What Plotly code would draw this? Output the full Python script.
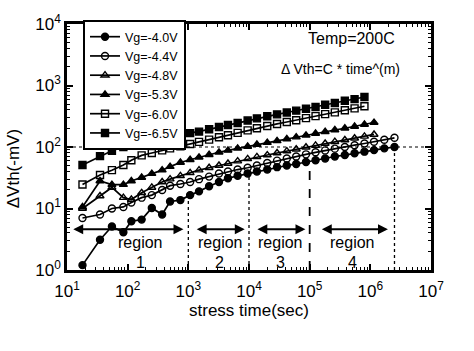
import math
import plotly.graph_objects as go

# ---- data ----
t = [18, 35, 55, 85, 115, 170, 250, 370, 500, 740, 1070, 1500, 2200, 3200, 4500,
     6500, 9500, 13500, 20000, 29000, 42000, 60000, 87000, 125000, 180000,
     260000, 380000, 550000, 800000, 1150000, 1700000, 2500000]

vg_40 = [1.2, 3.1, 5.1, 4.1, 6.2, 6.6, 10.2, 8.0, 13, 13.7, 16.5, 19, 23, 27, 31,
         34, 37, 40, 43, 47, 50, 53, 57, 61, 65, 70, 74, 79, 84, 89, 95, 100]
vg_44 = [7, 8, 10, 10.6, 12.5, 15, 16.5, 20, 23.5, 25, 27, 30, 33, 37, 40,
         43, 46, 50, 55, 60, 65, 70, 76, 82, 88, 94, 100, 107, 114, 122, 131, 141]
vg_48 = [10, 16, 22, 15, 14, 18, 22, 27, 30, 34, 38, 42, 46, 50, 54,
         59, 64, 69, 74, 80, 86, 92, 99, 106, 114, 122, 130, 139, 149, 160]
vg_53 = [10.6, 28, 24.5, 24.5, 28, 32, 37, 42, 48, 56, 62, 68, 75, 82, 88,
         95, 102, 110, 118, 126, 135, 145, 155, 166, 177, 189, 202, 216, 232, 250]
vg_60 = [24.5, 35, 42, 51, 61, 73, 80, 88, 95, 103, 112, 121, 132, 144, 155,
         170, 186, 202, 220, 237, 255, 273, 295, 318, 342, 366, 395, 425, 460]
vg_65 = [51, 71, 87, 100, 108, 118, 128, 138, 148, 158, 168, 178, 194, 211, 228,
         246, 269, 292, 316, 339, 364, 390, 418, 448, 487, 520, 565, 600, 650]

series_names = ["Vg=-4.0V", "Vg=-4.4V", "Vg=-4.8V", "Vg=-5.3V", "Vg=-6.0V", "Vg=-6.5V"]
series_vals = [vg_40, vg_44, vg_48, vg_53, vg_60, vg_65]
series_symbols = ["circle", "circle-open", "triangle-up-open", "triangle-up", "square-open", "square"]
series_sizes = [7, 7, 7, 7, 7, 7]

# reference (dotted) lines
hline_x = [10, 1e7]
hline_y = [100, 100]
vline_x = [1e3, 1e4, 1e5, 2.5e6]
vline_top = [17, 37, 58, 100]
vline_dash = ["dot", "dot", "dash", "dot"]
vline_width = [1.3, 1.3, 1.8, 1.3]

# regions (double arrows)
region_labels = ["1", "2", "3", "4"]
region_start = [12, 1300, 13000, 150000]
region_end = [830, 8500, 85000, 1950000]
region_text_x = [160, 3300, 33000, 500000]
arrow_y = 4.6
region_word_y = 2.8
region_num_y = 1.3

x_ticks = [10, 100, 1e3, 1e4, 1e5, 1e6, 1e7]
x_ticktext = ["10<sup>1</sup>", "10<sup>2</sup>", "10<sup>3</sup>", "10<sup>4</sup>",
              "10<sup>5</sup>", "10<sup>6</sup>", "10<sup>7</sup>"]
y_ticks = [1, 10, 100, 1000, 10000]
y_ticktext = ["10<sup>0</sup>", "10<sup>1</sup>", "10<sup>2</sup>", "10<sup>3</sup>", "10<sup>4</sup>"]

x_minor = [m * 10 ** d for d in range(1, 7) for m in range(2, 10)]
y_minor = [m * 10 ** d for d in range(0, 4) for m in range(2, 10)]

FONT = "Liberation Sans, Arial, Helvetica, sans-serif"

fig = go.Figure()

# dotted reference lines
fig.add_trace(go.Scatter(x=hline_x, y=hline_y, mode="lines", showlegend=False, hoverinfo="skip",
                         line=dict(color="black", width=1.2, dash="dot")))
for vx, vt, vd, vw in zip(vline_x, vline_top, vline_dash, vline_width):
    fig.add_trace(go.Scatter(x=[vx, vx], y=[1, vt], mode="lines", showlegend=False, hoverinfo="skip",
                             line=dict(color="black", width=vw, dash=vd)))

for name, vals, sym, sz in zip(series_names, series_vals, series_symbols, series_sizes):
    fig.add_trace(go.Scatter(
        x=t[:len(vals)], y=vals, name=name, mode="lines+markers",
        line=dict(color="black", width=1.7),
        marker=dict(symbol=sym, size=sz, color="black", line=dict(color="black", width=1.4)),
    ))

annotations = []
for s, e in zip(region_start, region_end):
    annotations.append(dict(
        x=math.log10(e), y=math.log10(arrow_y), ax=math.log10(s), ay=math.log10(arrow_y),
        xref="x", yref="y", axref="x", ayref="y", text="", showarrow=True,
        arrowhead=2, arrowside="end+start", arrowsize=1.1, arrowwidth=1.8, arrowcolor="black"))
for lab, tx in zip(region_labels, region_text_x):
    annotations.append(dict(x=math.log10(tx), y=math.log10(region_word_y), xref="x", yref="y",
                            text="region", showarrow=False, font=dict(size=16, color="black", family=FONT)))
    annotations.append(dict(x=math.log10(tx), y=math.log10(region_num_y), xref="x", yref="y",
                            text=lab, showarrow=False, font=dict(size=16, color="black", family=FONT)))

annotations.append(dict(x=0.907, y=0.941, xref="paper", yref="paper", xanchor="right", yanchor="middle",
                        text="Temp=200C", showarrow=False, font=dict(size=16, color="black", family=FONT)))
annotations.append(dict(x=0.92, y=0.818, xref="paper", yref="paper", xanchor="right", yanchor="middle",
                        text="\u0394 Vth=C * time^(m)", showarrow=False,
                        font=dict(size=14, color="black", family=FONT)))
annotations.append(dict(x=-0.148, y=0.41, xref="paper", yref="paper", xanchor="center", yanchor="middle",
                        text="\u0394Vth(-mV)", textangle=-90, showarrow=False,
                        font=dict(size=17, color="black", family=FONT)))

axis_common = dict(
    type="log", showgrid=False, zeroline=False, showline=True, linewidth=2.5, linecolor="black",
    mirror="ticks", ticks="inside", ticklen=6, tickwidth=1.5, tickcolor="black",
    tickfont=dict(size=17, color="black", family=FONT),
)

fig.update_layout(
    width=474, height=351,
    margin=dict(l=67, r=43, t=17, b=81),
    paper_bgcolor="white", plot_bgcolor="white",
    font=dict(family=FONT, color="black"),
    showlegend=True,
    legend=dict(x=0.044, y=1.016, xanchor="left", yanchor="top",
                bgcolor="white", bordercolor="black", borderwidth=2,
                font=dict(size=12.5, color="black", family=FONT),
                itemwidth=30, tracegroupgap=0),
    annotations=annotations,
    xaxis=dict(range=[1, 7], tickvals=x_ticks, ticktext=x_ticktext, ticklabelstandoff=4,
               minor=dict(tickvals=x_minor, ticks="inside", ticklen=3, tickcolor="black", tickwidth=1),
               title=dict(text="stress time(sec)", font=dict(size=17, color="black", family=FONT), standoff=2),
               **axis_common),
    yaxis=dict(range=[0, 4], tickvals=y_ticks, ticktext=y_ticktext,
               minor=dict(tickvals=y_minor, ticks="inside", ticklen=3, tickcolor="black", tickwidth=1),
               **axis_common),
)

fig.write_html("out.html")
